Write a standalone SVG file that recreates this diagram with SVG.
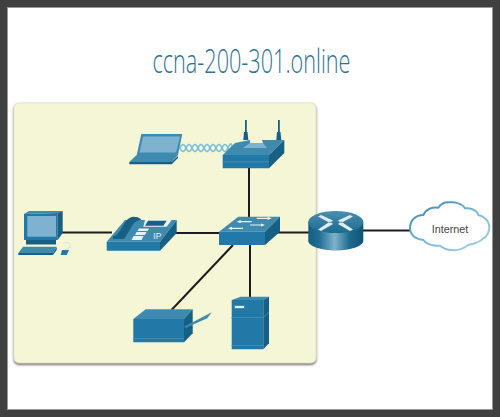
<svg xmlns="http://www.w3.org/2000/svg" width="500" height="417" viewBox="0 0 500 417">
<defs>
<linearGradient id="rt" x1="0" x2="1" y1="0" y2="0"><stop offset="0" stop-color="#145c7e"/><stop offset=".2" stop-color="#1f6f94"/><stop offset=".48" stop-color="#7fb2c9"/><stop offset=".75" stop-color="#1d6a8e"/><stop offset="1" stop-color="#125574"/></linearGradient>
<linearGradient id="rtop" x1="0" x2="0" y1="0" y2="1"><stop offset="0" stop-color="#4a8fae"/><stop offset="1" stop-color="#1c6b90"/></linearGradient>
<linearGradient id="cl" x1="0" x2="1" y1="0" y2="1"><stop offset="0" stop-color="#2f7ea8"/><stop offset=".5" stop-color="#7db9d6"/><stop offset="1" stop-color="#a9d3e6"/></linearGradient>
<filter id="sh" x="-5%" y="-5%" width="110%" height="110%"><feDropShadow dx="0" dy="1.500" stdDeviation="1" flood-color="#333" flood-opacity=".8"/></filter>
<path id="ah" d="M0 0L4 -1.600V-.6H15V.6H4V1.600z" fill="#e8f2f5"/>
</defs>
<style>
.f{fill:#2279a8}.t{fill:#3f8bb0}.d{fill:#185f84}.l{fill:#7fb2d0}.w{fill:#e8f2f5}
.c{stroke:#1c1c1c;stroke-width:2;fill:none}
</style>
<rect width="500" height="417" fill="#404040"/>
<rect x="7.500" y="7.500" width="485" height="402" fill="#fff" stroke="#999"/>
<text x="251.500" y="73" text-anchor="middle" font-family="'Open Sans','Liberation Sans',sans-serif" font-weight="300" font-size="33" fill="#2f7295" textLength="198" lengthAdjust="spacingAndGlyphs">ccna-200-301.online</text>
<rect id="panel" x="14" y="103" width="302" height="260" rx="5" fill="#f5f6d6" stroke="#d8d8c0" stroke-width=".6" filter="url(#sh)"/>
<g id="connectors" class="c">
<path d="M62 232.500H112M170 233H225"/>
<path d="M249 165V222"/>
<path d="M275 232.500H320"/>
<path d="M358 230.500H412"/>
<path d="M233 245L171.500 310"/>
<path d="M250 245V298"/>
<path d="M180 148q3-7 6 0t6 0 6 0 6 0 6 0 6 0 6 0 6 0 4-2" style="stroke:#7cc0dc;stroke-width:1.700"/>
<path d="M180 148q3 7 6 0t6 0 6 0 6 0 6 0 6 0 6 0 6 0 4-2" style="stroke:#7cc0dc;stroke-width:1.700"/>
</g>
<g id="laptop">
<path class="t" d="M141.300 134H182.300L178 155H136.700z"/>
<path class="l" d="M143 136.500H180L176 152.500H139.500z"/>
<path class="t" d="M136.700 155H178L171.700 162H129.300z"/>
<path class="d" d="M129.300 162H171.700L178 156V158L171.700 164.300H129.300z"/>
</g>
<g id="wireless-router">
<path class="d" d="M245 120h1.800v20h-1.800zM278 120h1.800v20h-1.800z"/>
<path class="d" d="M244 132h3.500l.8 8h-5zM277 132h3.500l.8 8h-5z"/>
<path class="t" d="M222.700 155L235 143L250 140V143H263L262 140H284.300L269 155z"/>
<path class="l" d="M243 148H267L263 143H250z"/>
<path class="f" d="M222.700 155H269V168.300H222.700z"/>
<path class="d" d="M269 155L284.300 140V153L269 168.300z"/>
<path d="M222.700 161H269V162.500H222.700z" fill="#3f8bb0" opacity=".7"/>
</g>
<g id="desktop-pc">
<path class="t" d="M24 214L29 211H62.700L57.700 213z"/>
<path class="f" d="M24 214L57.700 213V240H24z"/>
<path class="d" d="M57.700 213L62.700 211V233L57.700 240z"/>
<path class="l" d="M27.300 216H56V236.700H27.300z"/>
<path class="d" d="M26 240H56V244.500H26z"/>
<path class="t" d="M23 246.700H56.700L53 253H18.300z"/>
<path class="d" d="M18.300 253H53L56.700 247V250L53 255H18.300z"/>
<path class="f" d="M62 250H69L66.700 255H60.700z"/>
<path d="M63 243C67 242 71 243 70.700 246C70.500 248 67 248 65 250" fill="none" stroke="#cfe3ea"/>
</g>
<g id="ip-phone">
<path class="t" d="M106.700 241.700L125 220H176.700L160 241.700z"/>
<path class="f" d="M106.700 241.700H160V250.700H106.700z"/>
<path class="d" d="M160 241.700L176.700 220V233L160 250.700z"/>
<path class="d" d="M113 236C118 236 120 230 124 224C127 219 131 216 135 217C139 217 141 219 141 220C137 220 133 223 131 228L124 239L113 239z"/>
<path class="w" d="M145 220H171.700L166.700 226.700H143.300z"/>
<path class="d" d="M148 220.700H166.700L163.300 225.700H145z"/>
<path class="w" d="M139 228.500h10l-1.500 2.500h-10zM136.500 232h10l-1.500 3h-10zM133.500 236h10l-2 4h-10z"/>
<text x="157.300" y="238.500" text-anchor="middle" font-family="'Liberation Sans',Arial,sans-serif" font-size="8.500" fill="#e8f2f5">IP</text>
</g>
<g id="switch">
<path class="t" d="M219 231.700L238.300 216.700H280L265 231.700z"/>
<path class="f" d="M219 231.700H265V245H219z"/>
<path class="d" d="M265 231.700L280 216.700V231.700L265 245z"/>
<use href="#ah" x="236.700" y="221.700"/>
<use href="#ah" x="228" y="228.300" transform="translate(0 0)"/>
<use href="#ah" transform="translate(271.700 218.300) rotate(180)"/>
<use href="#ah" transform="translate(265 225) rotate(180)"/>
</g>
<g id="router">
<path d="M308.300 222V241C308.300 246 321 250.500 335.800 250.500C350 250.500 363.300 246 363.300 241V222z" fill="url(#rt)"/>
<ellipse cx="335.800" cy="222" rx="27.500" ry="11" fill="url(#rtop)"/>
<g class="w"><path d="M318 216.500L321 215L333 220.500L330 223zM353 216.500L350 215L338 220.500L341 223zM318 229.500L321 231L333 224L330 221.500zM353 229.500L350 231L338 224L341 221.500z" opacity=".95"/></g>
</g>
<g id="internet">
<path d="M410 228.300C410 220 416 215 423.300 215C426 209 433 206.500 438.300 207.700C441 203.500 446 201.800 450 202.300C456 202 463 204 465 208.300C470 207.500 477 210 478.300 215C484 216 489.300 221 489.300 226.700C489.300 232 487 237 483.300 238.300C480 242 473 244 468.300 245C463 249 456 250.500 451.700 250C447 250 443 248 440 245.700C434 246.500 426 244 423.300 240C416 239.500 410 235 410 228.300z" fill="#fff" stroke="url(#cl)" stroke-width="2"/>
<text x="450" y="232.700" text-anchor="middle" font-family="'Liberation Sans',Arial,sans-serif" font-size="10.800" fill="#444">Internet</text>
</g>
<g id="printer">
<path class="t" d="M133.300 319L145.700 309.300H192.700L184 319z"/>
<path class="f" d="M133.300 319H184V342.300H133.300z"/>
<path class="d" d="M184 319L192.700 309.300V333.300L184 342.300z"/>
<path d="M133.300 338H184V339H133.300z" fill="#3f8bb0"/>
<path class="t" d="M184 326.700L211.700 312.300L207.300 318.300L186 327.700z"/>
</g>
<g id="server">
<path class="t" d="M231.700 300L240.700 296.700H269L263.300 300z"/>
<path class="f" d="M231.700 300H263.300V349.300H231.700z"/>
<path class="d" d="M263.300 300L269 296.700V343.300L263.300 349.300z"/>
<path class="t" d="M234 305H245V309H234z"/>
<path class="w" d="M235 306H244V308H235z"/>
<path class="t" d="M231.700 317H263.300V318H231.700zM231.700 345H263.300V346H231.700z"/>
<path d="M263.300 317L269 311.700V312.700L263.300 318z" fill="#3f8bb0"/>
</g>
</svg>
